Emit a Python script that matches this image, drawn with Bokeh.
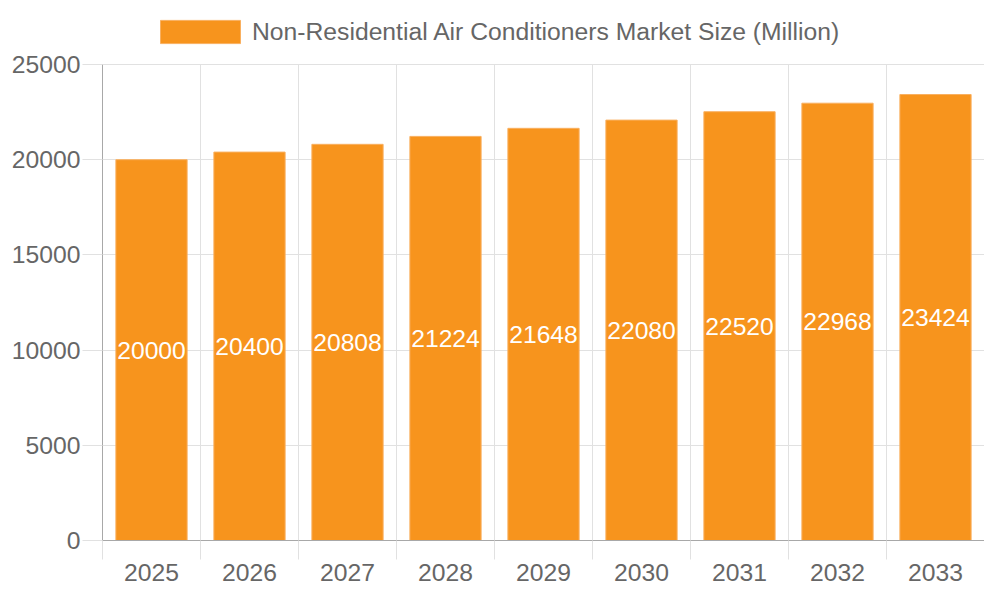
from bokeh.core.properties import value
from bokeh.embed import file_html
from bokeh.models import (ColumnDataSource, FixedTicker, Grid, Legend, LegendItem,
                          LinearAxis, Range1d)
from bokeh.plotting import figure
from bokeh.resources import INLINE

years = ['2025', '2026', '2027', '2028', '2029', '2030', '2031', '2032', '2033']
market_size = [20000, 20400, 20808, 21224, 21648, 22080, 22520, 22968, 23424]
y_ticks = [0, 5000, 10000, 15000, 20000, 25000]
series_name = 'Non-Residential Air Conditioners Market Size (Million)'

BAR_COLOR = '#F7941D'
TEXT_COLOR = '#666666'
GRID_COLOR = '#e1e1e1'
AXIS_COLOR = '#a8a8a8'
FONT = 'Liberation Sans'
FONT_SIZE = '24.7px'

# frame runs from y=10 to y=540 px; the value axis (0..25000) uses the lower 476 px,
# the strip above it holds the legend
Y_MAX = 25000
FRAME_TOP = 10
FRAME_BOTTOM = 540
AXIS_PX = 476
y_end = Y_MAX * (FRAME_BOTTOM - FRAME_TOP) / AXIS_PX

centers = [i + 0.5 for i in range(len(years))]
bounds = list(range(len(years) + 1))

source = ColumnDataSource(data=dict(
    x=centers,
    top=market_size,
    mid=[v / 2 for v in market_size],
    label=[str(v) for v in market_size],
))

p = figure(
    width=984,
    height=584,
    output_backend='svg',
    toolbar_location=None,
    x_range=Range1d(0, len(years)),
    y_range=Range1d(0, y_end),
    x_axis_type=None,
    y_axis_type=None,
    min_border_left=102,
    min_border_right=0,
    min_border_top=FRAME_TOP,
    min_border_bottom=584 - FRAME_BOTTOM,
)
p.outline_line_color = None
p.grid.visible = False

# horizontal grid at value ticks, vertical grid lines at category boundaries
p.add_layout(Grid(dimension=1, ticker=FixedTicker(ticks=y_ticks), grid_line_color=GRID_COLOR))
p.segment(x0=bounds, y0=0, x1=bounds, y1=Y_MAX, line_color=GRID_COLOR, line_width=1,
          level='underlay')

xaxis = LinearAxis(
    ticker=FixedTicker(ticks=centers, minor_ticks=bounds),
    major_label_overrides={c: y for c, y in zip(centers, years)},
    axis_line_color=AXIS_COLOR,
    major_tick_line_color=None,
    major_tick_out=0,
    major_tick_in=0,
    minor_tick_line_color=GRID_COLOR,
    minor_tick_out=19,
    minor_tick_in=0,
    major_label_standoff=4,
    major_label_text_font=FONT,
    major_label_text_font_size=FONT_SIZE,
    major_label_text_color=TEXT_COLOR,
)
p.add_layout(xaxis, 'below')

yaxis = LinearAxis(
    ticker=FixedTicker(ticks=y_ticks),
    bounds=(0, Y_MAX),
    axis_line_color=AXIS_COLOR,
    major_tick_line_color=GRID_COLOR,
    major_tick_out=20,
    major_tick_in=0,
    minor_tick_line_color=None,
    major_label_standoff=2,
    major_label_text_font=FONT,
    major_label_text_font_size=FONT_SIZE,
    major_label_text_color=TEXT_COLOR,
)
p.add_layout(yaxis, 'left')

bars = p.vbar(x='x', top='top', bottom=0, width=0.727, source=source,
              fill_color=BAR_COLOR, line_color='#f9b060', line_width=1)

p.text(x='x', y='mid', text='label', source=source,
       text_color='white', text_font=value(FONT), text_font_size=FONT_SIZE,
       text_align='center', text_baseline='middle')

# legend glyph is inset by 10% on each side, so the glyph box is a bit larger
legend = Legend(
    items=[LegendItem(label=series_name, renderers=[bars])],
    location=(48, 494),
    orientation='horizontal',
    glyph_width=100,
    glyph_height=29,
    label_standoff=2,
    padding=0,
    margin=0,
    spacing=0,
    border_line_color=None,
    background_fill_alpha=0,
    label_text_font=FONT,
    label_text_font_size=FONT_SIZE,
    label_text_color=TEXT_COLOR,
)
p.add_layout(legend, 'center')

open('out.html', 'w').write(file_html(p, INLINE))
